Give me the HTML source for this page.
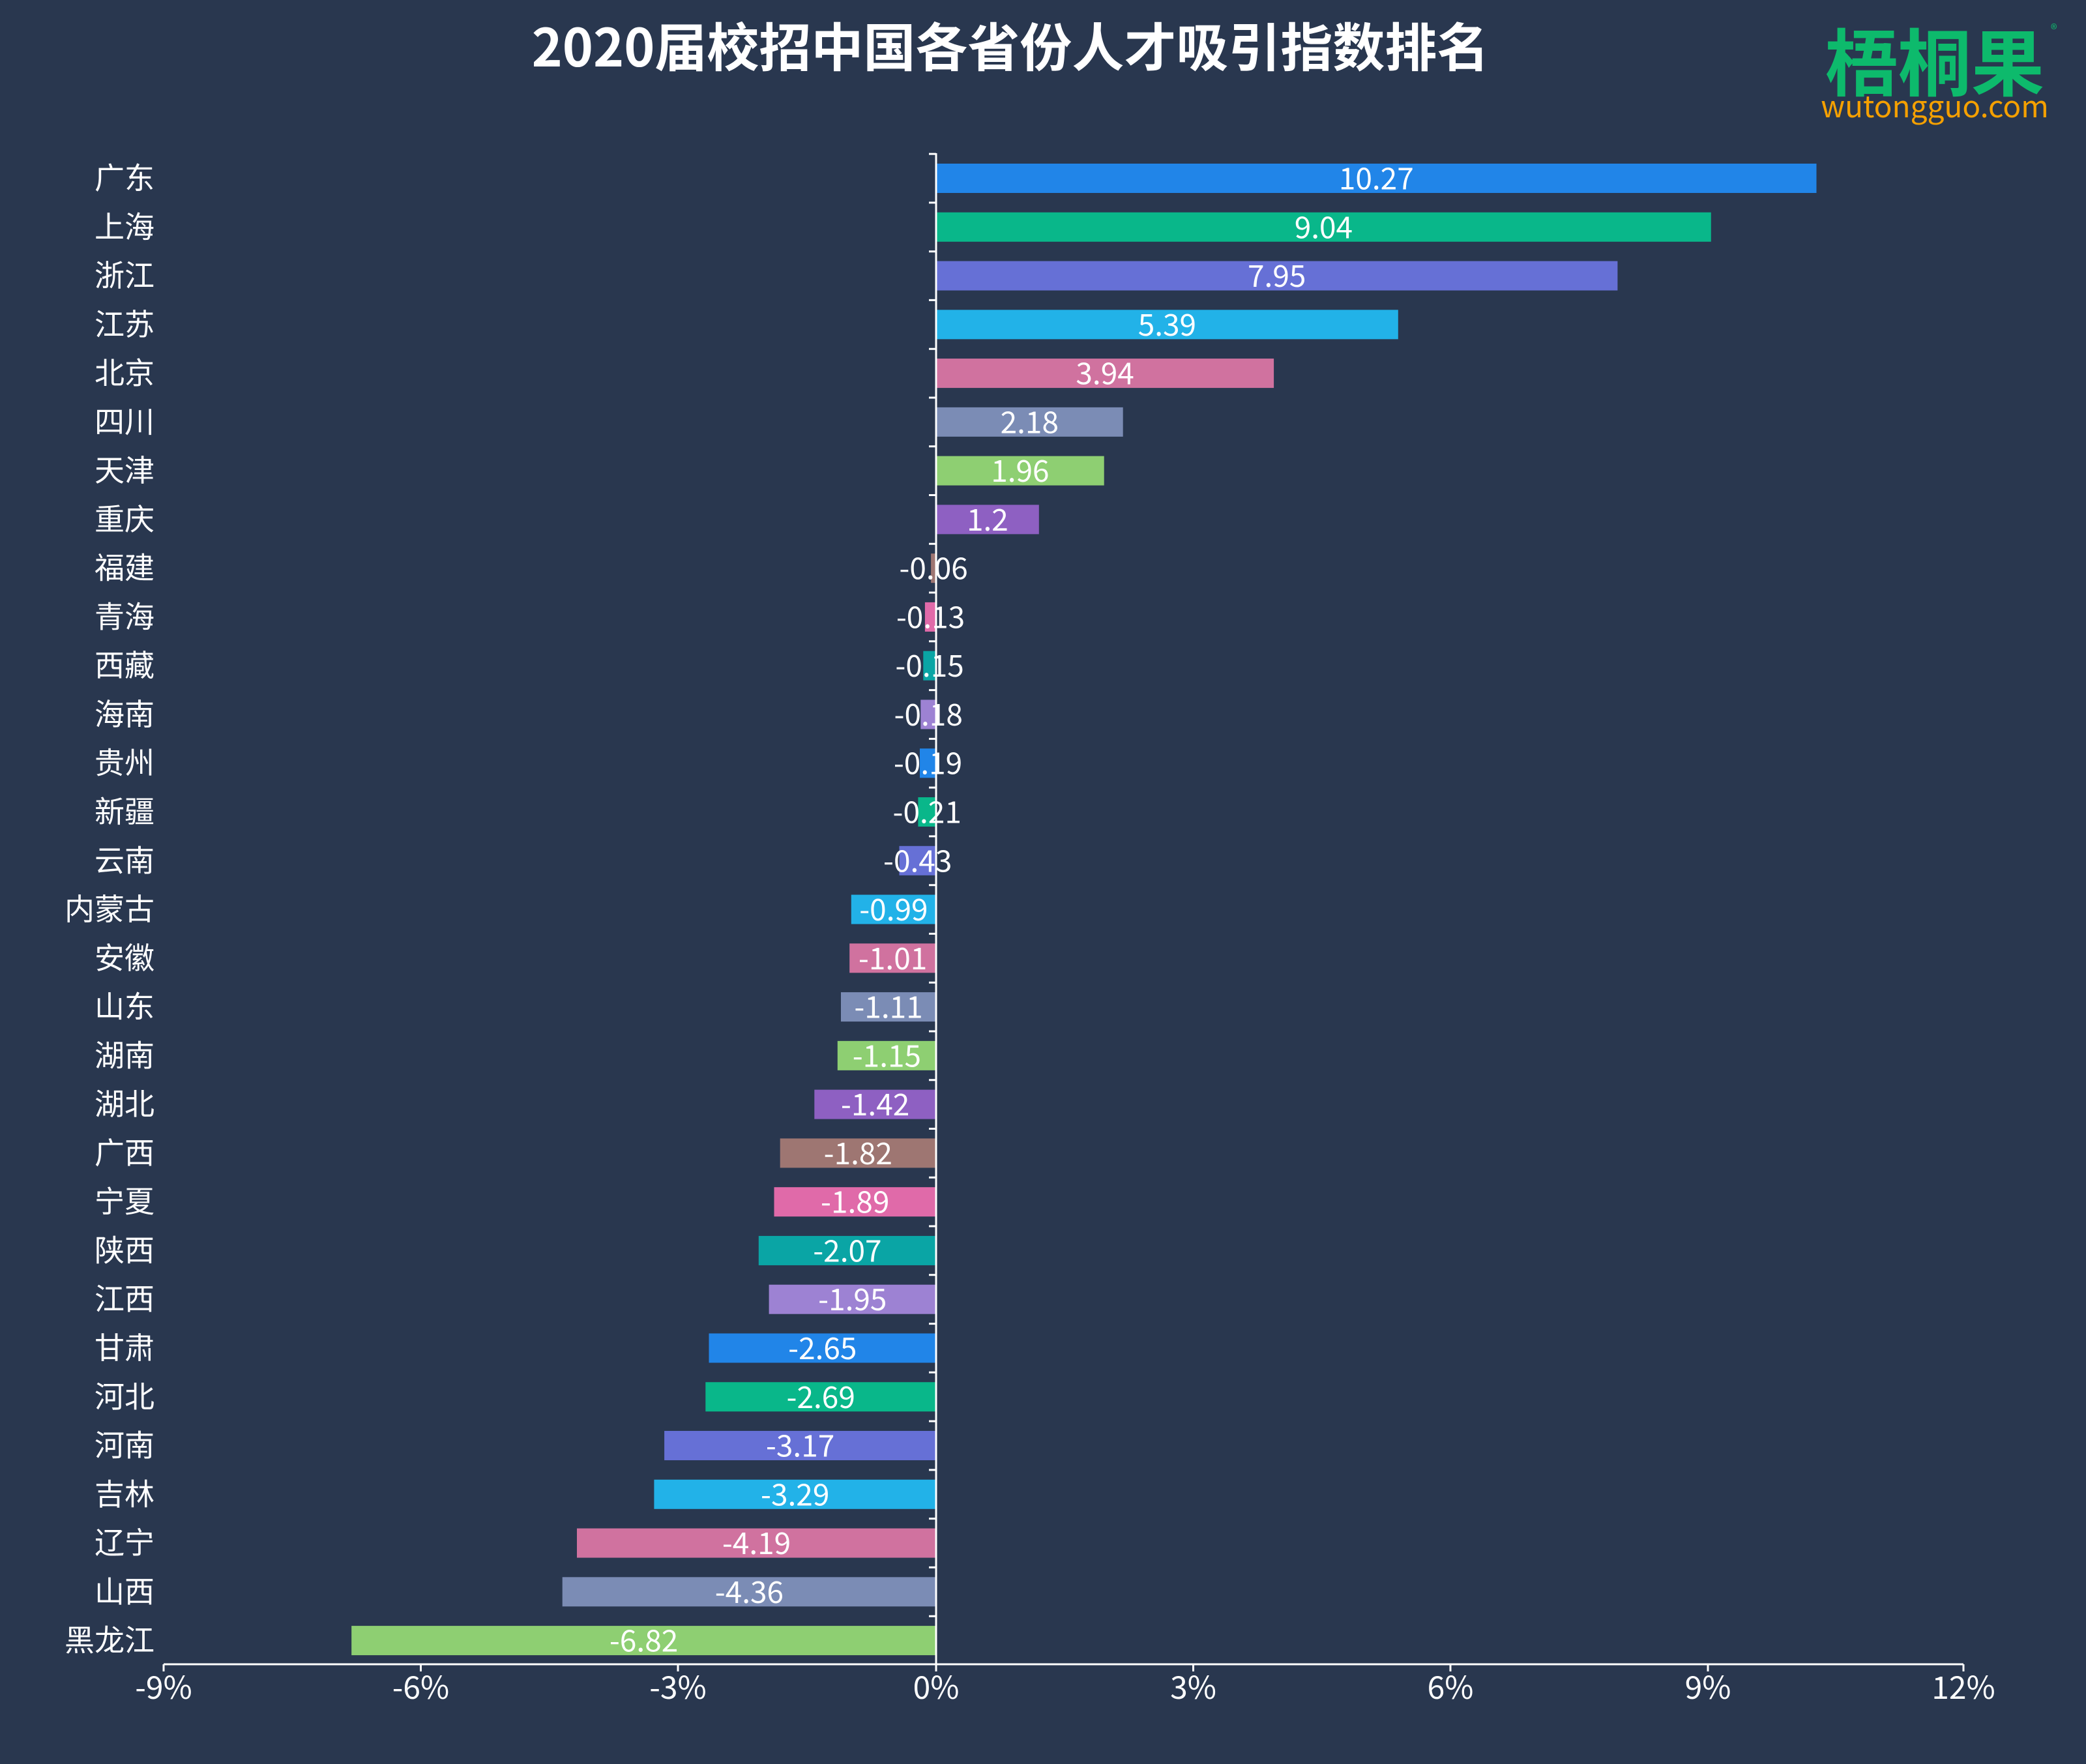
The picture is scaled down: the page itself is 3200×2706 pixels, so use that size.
<!DOCTYPE html>
<html><head><meta charset="utf-8">
<style>
html,body{margin:0;padding:0;background:#29374f;}
svg{display:block;}
text{font-family:"Noto Sans CJK SC","Liberation Sans",sans-serif;}
</style></head>
<body>
<svg width="3200" height="2706" viewBox="0 0 3200 2706" xmlns="http://www.w3.org/2000/svg">
<rect width="3200" height="2706" fill="#29374f"/>
<text x="1550" y="102" font-size="80" font-weight="bold" fill="#ffffff" text-anchor="middle">2020届校招中国各省份人才吸引指数排名</text>
<text x="2968" y="138" font-size="112" font-weight="bold" fill="#0dba6c" text-anchor="middle">梧桐果</text>
<text x="3146" y="52" font-size="20" fill="#0dba6c">®</text>
<text x="2968" y="180" font-size="46" fill="#f5a000" text-anchor="middle">wutongguo.com</text>

<g>
<rect x="1436" y="251" width="1350.5" height="45" fill="#2185e8"/>
<rect x="1436" y="325.77" width="1188.8" height="45" fill="#09b78a"/>
<rect x="1436" y="400.54" width="1045.4" height="45" fill="#6670d6"/>
<rect x="1436" y="475.31" width="708.8" height="45" fill="#22b2e8"/>
<rect x="1436" y="550.08" width="518.1" height="45" fill="#d0729f"/>
<rect x="1436" y="624.85" width="286.7" height="45" fill="#7b8cb5"/>
<rect x="1436" y="699.62" width="257.7" height="45" fill="#8ecf72"/>
<rect x="1436" y="774.39" width="157.8" height="45" fill="#8e60c2"/>
<rect x="1428.1" y="849.16" width="7.9" height="45" fill="#9e7672"/>
<rect x="1418.9" y="923.93" width="17.1" height="45" fill="#e06aa9"/>
<rect x="1416.3" y="998.7" width="19.7" height="45" fill="#0aa5a5"/>
<rect x="1412.3" y="1073.47" width="23.7" height="45" fill="#9d82d3"/>
<rect x="1411" y="1148.24" width="25" height="45" fill="#2185e8"/>
<rect x="1408.4" y="1223.01" width="27.6" height="45" fill="#09b78a"/>
<rect x="1379.5" y="1297.78" width="56.5" height="45" fill="#6670d6"/>
<rect x="1305.8" y="1372.55" width="130.2" height="45" fill="#22b2e8"/>
<rect x="1303.2" y="1447.32" width="132.8" height="45" fill="#d0729f"/>
<rect x="1290" y="1522.09" width="146" height="45" fill="#7b8cb5"/>
<rect x="1284.8" y="1596.86" width="151.2" height="45" fill="#8ecf72"/>
<rect x="1249.3" y="1671.63" width="186.7" height="45" fill="#8e60c2"/>
<rect x="1196.7" y="1746.4" width="239.3" height="45" fill="#9e7672"/>
<rect x="1187.5" y="1821.17" width="248.5" height="45" fill="#e06aa9"/>
<rect x="1163.8" y="1895.94" width="272.2" height="45" fill="#0aa5a5"/>
<rect x="1179.6" y="1970.71" width="256.4" height="45" fill="#9d82d3"/>
<rect x="1087.5" y="2045.48" width="348.5" height="45" fill="#2185e8"/>
<rect x="1082.3" y="2120.25" width="353.7" height="45" fill="#09b78a"/>
<rect x="1019.1" y="2195.02" width="416.9" height="45" fill="#6670d6"/>
<rect x="1003.4" y="2269.79" width="432.6" height="45" fill="#22b2e8"/>
<rect x="885" y="2344.56" width="551" height="45" fill="#d0729f"/>
<rect x="862.7" y="2419.33" width="573.3" height="45" fill="#7b8cb5"/>
<rect x="539.2" y="2494.1" width="896.8" height="45" fill="#8ecf72"/>
</g>

<g font-size="46" fill="#ffffff" text-anchor="end">
<text x="237" y="289.5">广东</text>
<text x="237" y="364.27">上海</text>
<text x="237" y="439.04">浙江</text>
<text x="237" y="513.81">江苏</text>
<text x="237" y="588.58">北京</text>
<text x="237" y="663.35">四川</text>
<text x="237" y="738.12">天津</text>
<text x="237" y="812.89">重庆</text>
<text x="237" y="887.66">福建</text>
<text x="237" y="962.43">青海</text>
<text x="237" y="1037.2">西藏</text>
<text x="237" y="1111.97">海南</text>
<text x="237" y="1186.74">贵州</text>
<text x="237" y="1261.51">新疆</text>
<text x="237" y="1336.28">云南</text>
<text x="237" y="1411.05">内蒙古</text>
<text x="237" y="1485.82">安徽</text>
<text x="237" y="1560.59">山东</text>
<text x="237" y="1635.36">湖南</text>
<text x="237" y="1710.13">湖北</text>
<text x="237" y="1784.9">广西</text>
<text x="237" y="1859.67">宁夏</text>
<text x="237" y="1934.44">陕西</text>
<text x="237" y="2009.21">江西</text>
<text x="237" y="2083.98">甘肃</text>
<text x="237" y="2158.75">河北</text>
<text x="237" y="2233.52">河南</text>
<text x="237" y="2308.29">吉林</text>
<text x="237" y="2383.06">辽宁</text>
<text x="237" y="2457.83">山西</text>
<text x="237" y="2532.6">黑龙江</text>
</g>

<g font-size="46" fill="#ffffff" text-anchor="middle">
<text x="2111.3" y="290.5">10.27</text>
<text x="2030.4" y="365.27">9.04</text>
<text x="1958.7" y="440.04">7.95</text>
<text x="1790.4" y="514.81">5.39</text>
<text x="1695.1" y="589.58">3.94</text>
<text x="1579.3" y="664.35">2.18</text>
<text x="1564.9" y="739.12">1.96</text>
<text x="1514.9" y="813.89">1.2</text>
<text x="1432.1" y="888.66">-0.06</text>
<text x="1427.5" y="963.43">-0.13</text>
<text x="1426.1" y="1038.2">-0.15</text>
<text x="1424.2" y="1112.97">-0.18</text>
<text x="1423.5" y="1187.74">-0.19</text>
<text x="1422.2" y="1262.51">-0.21</text>
<text x="1407.7" y="1337.28">-0.43</text>
<text x="1370.9" y="1412.05">-0.99</text>
<text x="1369.6" y="1486.82">-1.01</text>
<text x="1363" y="1561.59">-1.11</text>
<text x="1360.4" y="1636.36">-1.15</text>
<text x="1342.6" y="1711.13">-1.42</text>
<text x="1316.3" y="1785.9">-1.82</text>
<text x="1311.7" y="1860.67">-1.89</text>
<text x="1299.9" y="1935.44">-2.07</text>
<text x="1307.8" y="2010.21">-1.95</text>
<text x="1261.8" y="2084.98">-2.65</text>
<text x="1259.2" y="2159.75">-2.69</text>
<text x="1227.6" y="2234.52">-3.17</text>
<text x="1219.7" y="2309.29">-3.29</text>
<text x="1160.5" y="2384.06">-4.19</text>
<text x="1149.4" y="2458.83">-4.36</text>
<text x="987.6" y="2533.6">-6.82</text>
</g>

<path stroke="#ffffff" stroke-width="3" fill="none" d="M1425 236.1H1436M1425 310.9H1436M1425 385.7H1436M1425 460.4H1436M1425 535.2H1436M1425 610H1436M1425 684.7H1436M1425 759.5H1436M1425 834.3H1436M1425 909H1436M1425 983.8H1436M1425 1058.6H1436M1425 1133.4H1436M1425 1208.1H1436M1425 1282.9H1436M1425 1357.7H1436M1425 1432.4H1436M1425 1507.2H1436M1425 1582H1436M1425 1656.7H1436M1425 1731.5H1436M1425 1806.3H1436M1425 1881H1436M1425 1955.8H1436M1425 2030.6H1436M1425 2105.3H1436M1425 2180.1H1436M1425 2254.9H1436M1425 2329.6H1436M1425 2404.4H1436M1425 2479.2H1436"/>

<line x1="251" y1="2553" x2="3012" y2="2553" stroke="#ffffff" stroke-width="3"/>
<line x1="1436" y1="235" x2="1436" y2="2553" stroke="#ffffff" stroke-width="3"/>
<g stroke="#ffffff" stroke-width="3">
<line x1="251" y1="2553" x2="251" y2="2564"/><line x1="645.5" y1="2553" x2="645.5" y2="2564"/><line x1="1040" y1="2553" x2="1040" y2="2564"/><line x1="1436" y1="2553" x2="1436" y2="2564"/><line x1="1830.5" y1="2553" x2="1830.5" y2="2564"/><line x1="2225" y1="2553" x2="2225" y2="2564"/><line x1="2620" y1="2553" x2="2620" y2="2564"/><line x1="3012" y1="2553" x2="3012" y2="2564"/>
</g>
<g font-size="48" fill="#ffffff" text-anchor="middle">
<text x="251" y="2606">-9%</text><text x="645.5" y="2606">-6%</text><text x="1040" y="2606">-3%</text><text x="1436" y="2606">0%</text><text x="1830.5" y="2606">3%</text><text x="2225" y="2606">6%</text><text x="2620" y="2606">9%</text><text x="3012" y="2606">12%</text>
</g>
</svg>
</body></html>
